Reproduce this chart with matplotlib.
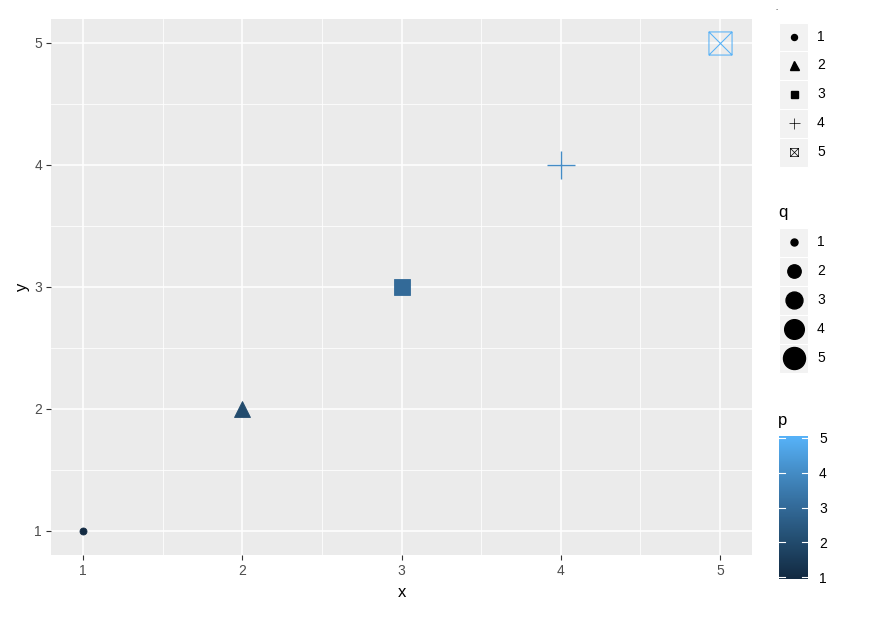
import numpy as np
import matplotlib
matplotlib.use("Agg")
import matplotlib.pyplot as plt
from matplotlib.path import Path
from matplotlib.patches import Rectangle
from matplotlib.colors import LinearSegmentedColormap, Normalize

plt.rcParams["font.family"] = ["Liberation Sans", "DejaVu Sans"]

# ---- data ----
x = [1, 2, 3, 4, 5]
y = [1, 2, 3, 4, 5]
p = [1, 2, 3, 4, 5]
q = [1, 2, 3, 4, 5]
shape_labels = ["1", "2", "3", "4", "5"]
p_ticks = [1, 2, 3, 4, 5]
q_labels = ["1", "2", "3", "4", "5"]

W, H = 874, 617
fig = plt.figure(figsize=(W / 100, H / 100), dpi=100)
fig.patch.set_facecolor("white")

# box with X marker
boxx = Path([(-1, -1), (1, -1), (1, 1), (-1, 1), (-1, -1), (1, 1), (-1, 1), (1, -1)],
            [Path.MOVETO, Path.LINETO, Path.LINETO, Path.LINETO, Path.LINETO,
             Path.LINETO, Path.MOVETO, Path.LINETO])
markers = ["o", "^", "s", "+", boxx]
filled = [True, True, True, False, False]
shape_factor = [1.0, 1.2, 0.95, 1.4, 1.05]
stroke = [0.6, 0.6, 0.6, 1.0, 0.75]

cmap = LinearSegmentedColormap.from_list(
    "gg", ["#132B43", "#224B6D", "#336A98", "#448CC5", "#56B1F7"])
norm = Normalize(vmin=min(p), vmax=max(p))

def size_mm(v, vmin=1, vmax=5):
    r = (v - vmin) / (vmax - vmin)
    return np.sqrt(r * (36 - 1) + 1)

def px_from_q(v):
    return 4 + 3 * size_mm(v)

PT = 100 / 72.0

# ---- main panel ----
ax = fig.add_axes([51 / W, 1 - 555 / H, (752 - 51) / W, (555 - 18.6) / H])
ax.set_facecolor("#EBEBEB")
ax.set_xlim(0.8, 5.2)
ax.set_ylim(0.8, 5.2)
ax.set_xticks([1, 2, 3, 4, 5])
ax.set_yticks([1, 2, 3, 4, 5])
ax.set_xticks([1.5, 2.5, 3.5, 4.5], minor=True)
ax.set_yticks([1.5, 2.5, 3.5, 4.5], minor=True)
ax.grid(which="major", color="white", linewidth=1.1)
ax.grid(which="minor", color="white", linewidth=0.55)
ax.set_axisbelow(True)
for s in ax.spines.values():
    s.set_visible(False)
ax.tick_params(which="major", length=3.5, width=0.8, color="#333333",
               labelcolor="#4D4D4D", labelsize=10, pad=3)
ax.tick_params(which="minor", length=0)
ax.set_xlabel("x", fontsize=12, color="black", labelpad=5)
ax.set_ylabel("y", fontsize=12, color="black", labelpad=3)

for i in range(len(x)):
    col = cmap(norm(p[i]))
    ms = px_from_q(q[i]) * shape_factor[i] / PT
    if filled[i]:
        ax.plot(x[i], y[i], marker=markers[i], ms=ms, color=col, mec=col,
                mew=stroke[i], linestyle="none")
    else:
        ax.plot(x[i], y[i], marker=markers[i], ms=ms, color=col, mfc="none",
                mec=col, mew=stroke[i], linestyle="none")

# ---- legends (overlay in pixel coords) ----
lg = fig.add_axes([0, 0, 1, 1])
lg.set_xlim(0, W)
lg.set_ylim(H, 0)
lg.axis("off")

kx0, kw = 779, 29
# shape legend
lg.text(776, 10, "-", fontsize=5, color="#555555", va="center", ha="left")
shape_y = [37, 65, 94, 123, 152]
key_ms = [6, 9, 7, 11, 8]
for i, yy in enumerate(shape_y):
    lg.add_patch(Rectangle((kx0, yy - 14), kw, 28.5, facecolor="#F2F2F2",
                           edgecolor="white", linewidth=0.8))
    if filled[i]:
        lg.plot(kx0 + kw / 2, yy, marker=markers[i], ms=key_ms[i] / PT,
                color="black", linestyle="none")
    else:
        lg.plot(kx0 + kw / 2, yy, marker=markers[i], ms=key_ms[i] / PT,
                color="black", mfc="none", mew=0.5, linestyle="none")
    lg.text(817, yy, shape_labels[i], fontsize=10, color="black", va="center")

# size legend
lg.text(778, 213, "q", fontsize=12, color="black", va="center")
size_y = [242, 271, 300, 329, 358]
for i, yy in enumerate(size_y):
    lg.add_patch(Rectangle((kx0, yy - 14), kw, 28.5, facecolor="#F2F2F2",
                           edgecolor="white", linewidth=0.8))
    lg.plot(kx0 + kw / 2, yy, marker="o", ms=px_from_q(q[i]) / PT,
            color="black", linestyle="none")
    lg.text(817, yy, q_labels[i], fontsize=10, color="black", va="center")

# colour bar
lg.text(778, 420, "p", fontsize=12, color="black", va="center")
cax = fig.add_axes([779 / W, 1 - 579 / H, 29 / W, 143 / H])
grad = np.linspace(0.95, 5.05, 256).reshape(-1, 1)
cax.imshow(grad, cmap=cmap, norm=norm, aspect="auto", origin="lower",
           extent=[0, 1, 0.95, 5.05])
cax.set_xlim(0, 1)
cax.set_ylim(0.95, 5.05)
cax.set_xticks([])
cax.set_yticks(p_ticks)
cax.yaxis.tick_right()
cax.tick_params(axis="y", length=0, labelsize=10, labelcolor="black", pad=8)
for s in cax.spines.values():
    s.set_visible(False)
for t in p_ticks:
    cax.plot([0, 0.2], [t, t], color="white", lw=0.8)
    cax.plot([0.8, 1], [t, t], color="white", lw=0.8)

fig.savefig("out.png", dpi=100)
